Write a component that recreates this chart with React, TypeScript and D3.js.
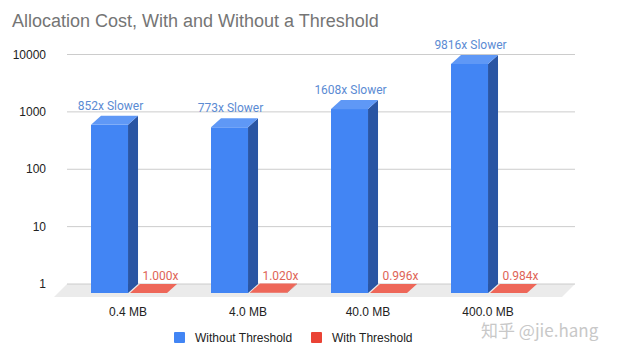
import * as d3 from 'd3'

const categories = ['0.4 MB', '4.0 MB', '40.0 MB', '400.0 MB']
const series = ['Without Threshold', 'With Threshold']
const withoutThreshold = [852, 773, 1608, 9816]
const withThreshold = [1.0, 1.02, 0.996, 0.984]
const withoutLabels = ['852x Slower', '773x Slower', '1608x Slower', '9816x Slower']
const withLabels = ['1.000x', '1.020x', '0.996x', '0.984x']
const yTicks = [1, 10, 100, 1000, 10000]

const W = 627
const H = 354
const colors = {
    front: ['#4285f4', '#e8594a'],
    side: ['#2a55a3', '#a83a2f'],
    top: ['#5f98f6', '#ee6759'],
    label: ['#5b8bd3', '#de6457']
}
const depthX = 10
const depthY = 9

const App = () => {
    const y = d3.scaleLog().domain([1, 10000]).range([284, 54.5])
    const x = d3.scaleBand().domain(categories).range([68, 548]).padding(0)
    const inner = d3.scaleBand().domain(series).range([23, 99]).paddingInner(0.05)
    const bw = inner.bandwidth()
    const gridX0 = 67
    const gridX1 = 575
    const base = y(1)

    const data = [withoutThreshold, withThreshold]
    const labels = [withoutLabels, withLabels]

    const bars = []
    const texts = []
    categories.forEach((c, i) => {
        series.forEach((s, j) => {
            const v = data[j][i]
            const xf = x(c) + inner(s)
            const yb = Math.min(y(v), base)
            const top = yb + depthY
            const bottom = base + depthY
            const side = [
                [xf + bw, top],
                [xf + bw + depthX, yb],
                [xf + bw + depthX, base],
                [xf + bw, bottom]
            ]
            const lid = [
                [xf, top],
                [xf + depthX, yb],
                [xf + bw + depthX, yb],
                [xf + bw, top]
            ]
            bars.push(
                <g key={`${c}-${s}`}>
                    <polygon points={side.join(' ')} fill={colors.side[j]} />
                    <rect x={xf} y={top} width={bw} height={Math.max(0, bottom - top)} fill={colors.front[j]} />
                    <polygon points={lid.join(' ')} fill={colors.top[j]} />
                </g>
            )
            texts.push(
                <text
                    key={`t-${c}-${s}`}
                    x={xf + bw / 2 + (j === 0 ? 1 : 12)}
                    y={yb - (j === 0 ? 6 : 4)}
                    textAnchor="middle"
                    fontFamily="Roboto, sans-serif"
                    fontSize={12}
                    fill={colors.label[j]}
                >
                    {labels[j][i]}
                </text>
            )
        })
    })

    const floor = [
        [gridX0, base],
        [gridX1, base],
        [gridX1 - 13, base + 13],
        [gridX0 - 13, base + 13]
    ]

    return (
        <svg width={W} height={H} style={{ position: 'absolute', left: 0, top: 0, background: '#fff' }}>
            <text x={12} y={27} fontFamily="Liberation Sans, Arial, sans-serif" fontSize={18} fill="#757575">
                Allocation Cost, With and Without a Threshold
            </text>
            <polygon points={floor.join(' ')} fill="#ebebeb" />
            {yTicks.map(t => (
                <g key={t}>
                    <line x1={gridX0} x2={gridX1} y1={y(t)} y2={y(t)} stroke="#cccccc" strokeWidth={1} />
                    <text
                        x={46}
                        y={y(t)}
                        dy="0.35em"
                        textAnchor="end"
                        fontFamily="Liberation Sans, Arial, sans-serif"
                        fontSize={12}
                        fill="#222"
                    >
                        {t}
                    </text>
                </g>
            ))}
            {bars}
            {texts}
            {categories.map(c => (
                <text
                    key={c}
                    x={x(c) + x.bandwidth() / 2}
                    y={316}
                    textAnchor="middle"
                    fontFamily="Liberation Sans, Arial, sans-serif"
                    fontSize={12}
                    fill="#222"
                >
                    {c}
                </text>
            ))}
            {series.map((s, j) => {
                const lx = [174, 311][j]
                return (
                    <g key={s}>
                        <rect x={lx} y={332} width={11} height={11} rx={1} fill={j === 0 ? '#4285f4' : '#ea4335'} />
                        <text x={lx + 21} y={342} fontFamily="Liberation Sans, Arial, sans-serif" fontSize={12} fill="#222">
                            {s}
                        </text>
                    </g>
                )
            })}
            <text x={481} y={337} fontFamily="Noto Sans CJK SC, sans-serif" fontSize={17} fill="#c8c8c8">
                知乎 @jie.hang
            </text>
        </svg>
    )
}

export default App
